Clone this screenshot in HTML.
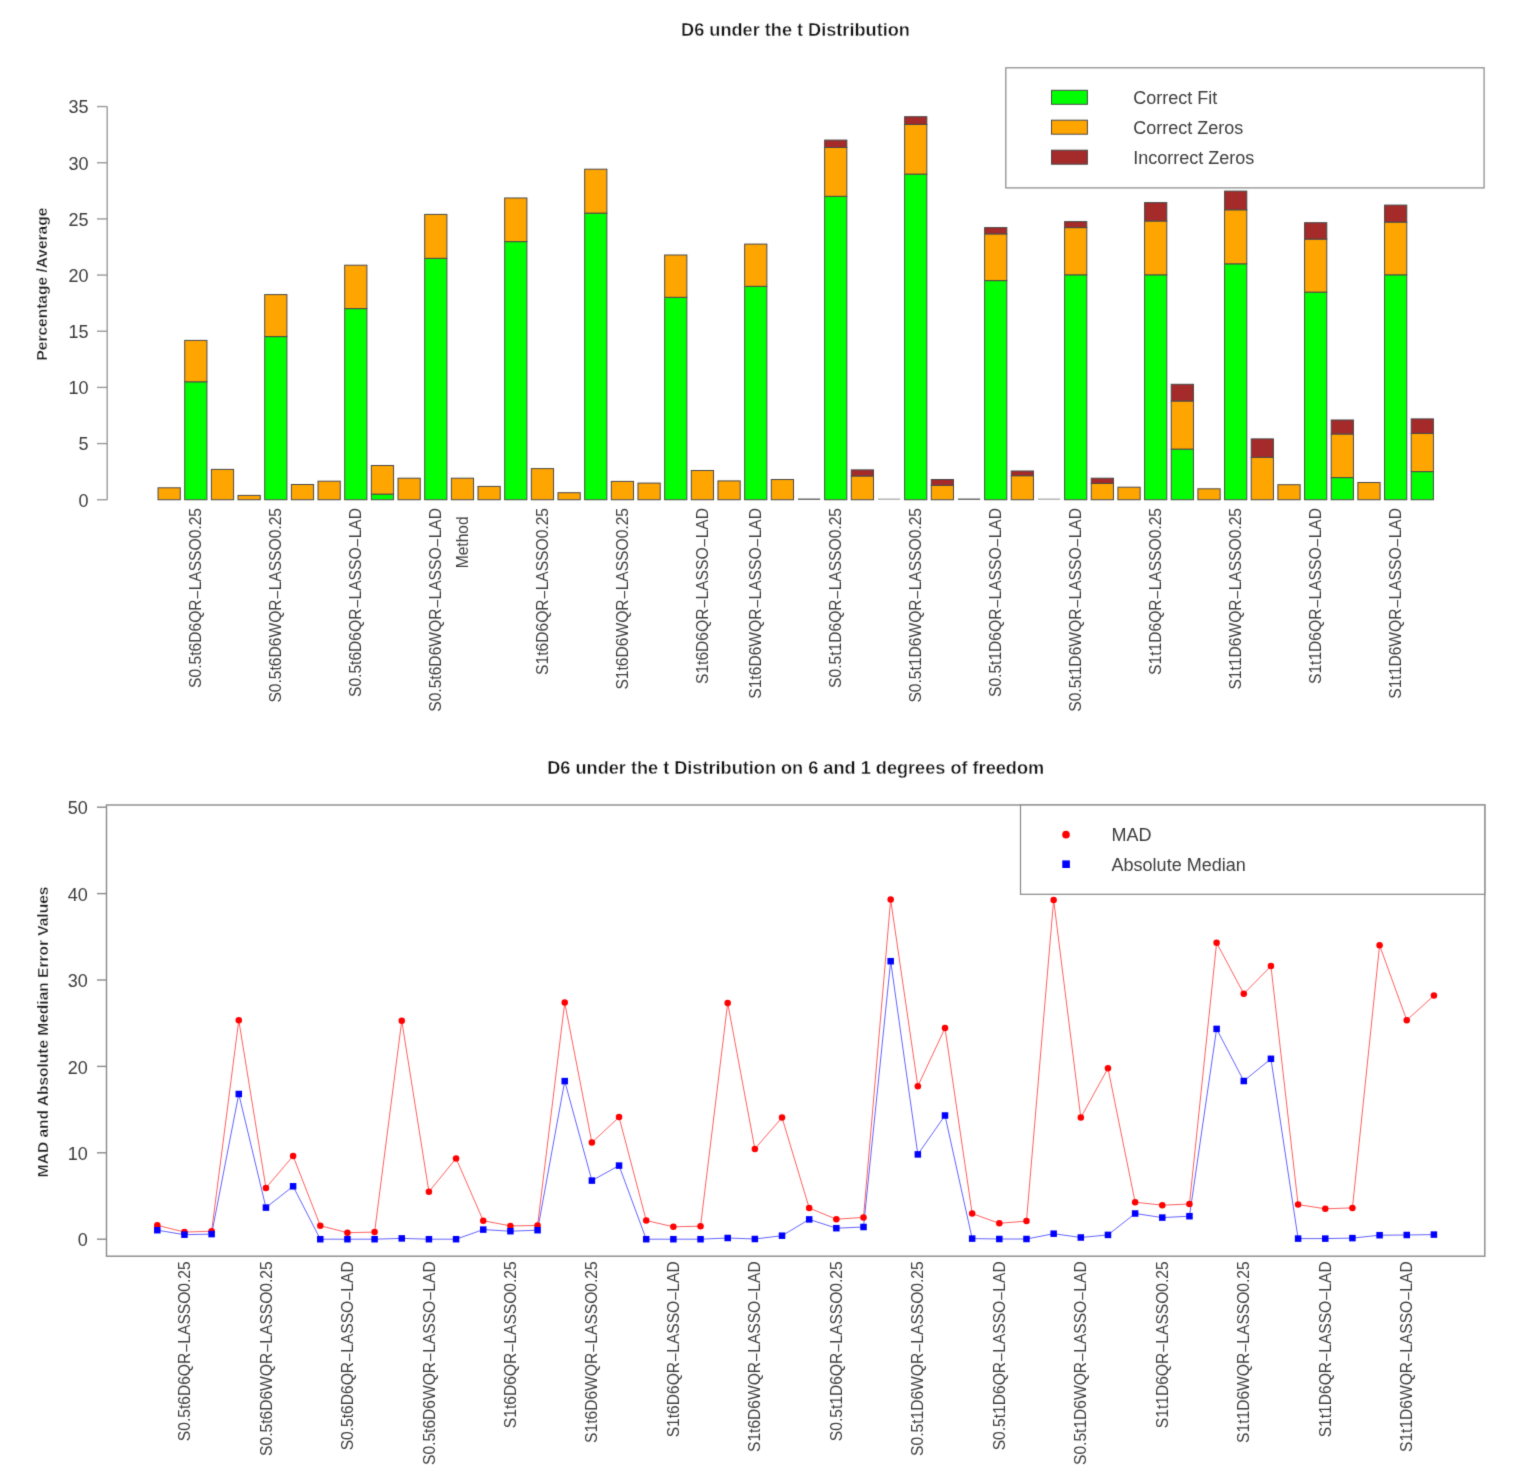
<!DOCTYPE html>
<html><head><meta charset="utf-8"><title>D6 under the t Distribution</title>
<style>
html,body{margin:0;padding:0;background:#fff;}
body{width:1525px;height:1476px;overflow:hidden;}
svg{display:block;}
text{font-family:'Liberation Sans', Arial, Helvetica, sans-serif;}
.t{font-weight:bold;font-size:18.15px;fill:#111;stroke:#fff;stroke-width:0.35px;}
.tick{font-size:18px;fill:#3c3c3c;}
.leg{font-size:18px;fill:#3c3c3c;}
.xl{font-size:15.6px;fill:#3c3c3c;}
.yl{font-size:15.5px;font-weight:bold;fill:#1a1a1a;stroke:#fff;stroke-width:0.3px;}
</style></head><body>
<svg width="1525" height="1476" viewBox="0 0 1525 1476">
<defs><filter id="soft" x="0" y="0" width="1525" height="1476" filterUnits="userSpaceOnUse" color-interpolation-filters="sRGB"><feConvolveMatrix order="3" kernelMatrix="0.01440 0.09120 0.01440 0.09120 0.57760 0.09120 0.01440 0.09120 0.01440" edgeMode="duplicate" preserveAlpha="true"/></filter></defs>
<g filter="url(#soft)">
<rect x="0" y="0" width="1525" height="1476" fill="#fff"/>

<text class="t" x="795.5" y="35.7" text-anchor="middle">D6 under the t Distribution</text>
<g stroke="#9a9a9a" stroke-width="1.4" fill="none">
<line x1="107.2" y1="106.56" x2="107.2" y2="499.75"/>
<line x1="97" y1="499.75" x2="107.2" y2="499.75"/>
<line x1="97" y1="443.58" x2="107.2" y2="443.58"/>
<line x1="97" y1="387.41" x2="107.2" y2="387.41"/>
<line x1="97" y1="331.24" x2="107.2" y2="331.24"/>
<line x1="97" y1="275.07" x2="107.2" y2="275.07"/>
<line x1="97" y1="218.90" x2="107.2" y2="218.90"/>
<line x1="97" y1="162.73" x2="107.2" y2="162.73"/>
<line x1="97" y1="106.56" x2="107.2" y2="106.56"/>
</g>
<text class="tick" x="88.6" y="506.55" text-anchor="end">0</text>
<text class="tick" x="88.6" y="450.38" text-anchor="end">5</text>
<text class="tick" x="88.6" y="394.21" text-anchor="end">10</text>
<text class="tick" x="88.6" y="338.04" text-anchor="end">15</text>
<text class="tick" x="88.6" y="281.87" text-anchor="end">20</text>
<text class="tick" x="88.6" y="225.70" text-anchor="end">25</text>
<text class="tick" x="88.6" y="169.53" text-anchor="end">30</text>
<text class="tick" x="88.6" y="113.36" text-anchor="end">35</text>
<text class="yl" transform="translate(47.4,284.1) rotate(-90)" text-anchor="middle">Percentage /Average</text>
<g stroke="#4a4a4a" stroke-width="1">
<rect x="158.05" y="487.80" width="22.22" height="11.95" fill="#ffa500"/>
<rect x="184.71" y="381.80" width="22.22" height="117.95" fill="#00ff00"/>
<rect x="184.71" y="340.40" width="22.22" height="41.40" fill="#ffa500"/>
<rect x="211.38" y="469.40" width="22.22" height="30.35" fill="#ffa500"/>
<rect x="238.04" y="495.40" width="22.22" height="4.35" fill="#ffa500"/>
<rect x="264.70" y="336.60" width="22.22" height="163.15" fill="#00ff00"/>
<rect x="264.70" y="294.60" width="22.22" height="42.00" fill="#ffa500"/>
<rect x="291.37" y="484.50" width="22.22" height="15.25" fill="#ffa500"/>
<rect x="318.03" y="481.20" width="22.22" height="18.55" fill="#ffa500"/>
<rect x="344.69" y="308.60" width="22.22" height="191.15" fill="#00ff00"/>
<rect x="344.69" y="265.20" width="22.22" height="43.40" fill="#ffa500"/>
<rect x="371.35" y="494.10" width="22.22" height="5.65" fill="#00ff00"/>
<rect x="371.35" y="465.50" width="22.22" height="28.60" fill="#ffa500"/>
<rect x="398.02" y="478.20" width="22.22" height="21.55" fill="#ffa500"/>
<rect x="424.68" y="258.30" width="22.22" height="241.45" fill="#00ff00"/>
<rect x="424.68" y="214.40" width="22.22" height="43.90" fill="#ffa500"/>
<rect x="451.34" y="478.20" width="22.22" height="21.55" fill="#ffa500"/>
<rect x="478.01" y="486.40" width="22.22" height="13.35" fill="#ffa500"/>
<rect x="504.67" y="241.60" width="22.22" height="258.15" fill="#00ff00"/>
<rect x="504.67" y="198.00" width="22.22" height="43.60" fill="#ffa500"/>
<rect x="531.33" y="468.60" width="22.22" height="31.15" fill="#ffa500"/>
<rect x="558.00" y="492.70" width="22.22" height="7.05" fill="#ffa500"/>
<rect x="584.66" y="213.10" width="22.22" height="286.65" fill="#00ff00"/>
<rect x="584.66" y="169.20" width="22.22" height="43.90" fill="#ffa500"/>
<rect x="611.32" y="481.40" width="22.22" height="18.35" fill="#ffa500"/>
<rect x="637.98" y="483.10" width="22.22" height="16.65" fill="#ffa500"/>
<rect x="664.65" y="297.30" width="22.22" height="202.45" fill="#00ff00"/>
<rect x="664.65" y="255.00" width="22.22" height="42.30" fill="#ffa500"/>
<rect x="691.31" y="470.50" width="22.22" height="29.25" fill="#ffa500"/>
<rect x="717.97" y="480.90" width="22.22" height="18.85" fill="#ffa500"/>
<rect x="744.64" y="286.30" width="22.22" height="213.45" fill="#00ff00"/>
<rect x="744.64" y="244.10" width="22.22" height="42.20" fill="#ffa500"/>
<rect x="771.30" y="479.50" width="22.22" height="20.25" fill="#ffa500"/>
<line x1="797.96" y1="499.2" x2="820.18" y2="499.2" stroke="#555" stroke-width="1.3"/>
<rect x="824.62" y="196.30" width="22.22" height="303.45" fill="#00ff00"/>
<rect x="824.62" y="147.50" width="22.22" height="48.80" fill="#ffa500"/>
<rect x="824.62" y="140.10" width="22.22" height="7.40" fill="#a52a2a"/>
<rect x="851.29" y="476.00" width="22.22" height="23.75" fill="#ffa500"/>
<rect x="851.29" y="469.90" width="22.22" height="6.10" fill="#a52a2a"/>
<line x1="877.95" y1="499.2" x2="900.17" y2="499.2" stroke="#aaa" stroke-width="1.3"/>
<rect x="904.61" y="174.10" width="22.22" height="325.65" fill="#00ff00"/>
<rect x="904.61" y="124.40" width="22.22" height="49.70" fill="#ffa500"/>
<rect x="904.61" y="116.70" width="22.22" height="7.70" fill="#a52a2a"/>
<rect x="931.28" y="485.30" width="22.22" height="14.45" fill="#ffa500"/>
<rect x="931.28" y="479.50" width="22.22" height="5.80" fill="#a52a2a"/>
<line x1="957.94" y1="499.2" x2="980.16" y2="499.2" stroke="#555" stroke-width="1.3"/>
<rect x="984.60" y="280.60" width="22.22" height="219.15" fill="#00ff00"/>
<rect x="984.60" y="233.90" width="22.22" height="46.70" fill="#ffa500"/>
<rect x="984.60" y="227.60" width="22.22" height="6.30" fill="#a52a2a"/>
<rect x="1011.27" y="475.70" width="22.22" height="24.05" fill="#ffa500"/>
<rect x="1011.27" y="471.00" width="22.22" height="4.70" fill="#a52a2a"/>
<line x1="1037.93" y1="499.2" x2="1060.15" y2="499.2" stroke="#aaa" stroke-width="1.3"/>
<rect x="1064.59" y="274.80" width="22.22" height="224.95" fill="#00ff00"/>
<rect x="1064.59" y="227.60" width="22.22" height="47.20" fill="#ffa500"/>
<rect x="1064.59" y="221.60" width="22.22" height="6.00" fill="#a52a2a"/>
<rect x="1091.26" y="483.40" width="22.22" height="16.35" fill="#ffa500"/>
<rect x="1091.26" y="478.20" width="22.22" height="5.20" fill="#a52a2a"/>
<rect x="1117.92" y="487.20" width="22.22" height="12.55" fill="#ffa500"/>
<rect x="1144.58" y="274.80" width="22.22" height="224.95" fill="#00ff00"/>
<rect x="1144.58" y="221.00" width="22.22" height="53.80" fill="#ffa500"/>
<rect x="1144.58" y="202.60" width="22.22" height="18.40" fill="#a52a2a"/>
<rect x="1171.24" y="449.10" width="22.22" height="50.65" fill="#00ff00"/>
<rect x="1171.24" y="401.00" width="22.22" height="48.10" fill="#ffa500"/>
<rect x="1171.24" y="384.30" width="22.22" height="16.70" fill="#a52a2a"/>
<rect x="1197.91" y="488.80" width="22.22" height="10.95" fill="#ffa500"/>
<rect x="1224.57" y="263.80" width="22.22" height="235.95" fill="#00ff00"/>
<rect x="1224.57" y="209.80" width="22.22" height="54.00" fill="#ffa500"/>
<rect x="1224.57" y="191.10" width="22.22" height="18.70" fill="#a52a2a"/>
<rect x="1251.23" y="457.30" width="22.22" height="42.45" fill="#ffa500"/>
<rect x="1251.23" y="438.90" width="22.22" height="18.40" fill="#a52a2a"/>
<rect x="1277.90" y="484.70" width="22.22" height="15.05" fill="#ffa500"/>
<rect x="1304.56" y="292.10" width="22.22" height="207.65" fill="#00ff00"/>
<rect x="1304.56" y="239.10" width="22.22" height="53.00" fill="#ffa500"/>
<rect x="1304.56" y="222.70" width="22.22" height="16.40" fill="#a52a2a"/>
<rect x="1331.22" y="477.60" width="22.22" height="22.15" fill="#00ff00"/>
<rect x="1331.22" y="434.00" width="22.22" height="43.60" fill="#ffa500"/>
<rect x="1331.22" y="420.00" width="22.22" height="14.00" fill="#a52a2a"/>
<rect x="1357.88" y="482.50" width="22.22" height="17.25" fill="#ffa500"/>
<rect x="1384.55" y="274.80" width="22.22" height="224.95" fill="#00ff00"/>
<rect x="1384.55" y="222.10" width="22.22" height="52.70" fill="#ffa500"/>
<rect x="1384.55" y="205.10" width="22.22" height="17.00" fill="#a52a2a"/>
<rect x="1411.21" y="471.60" width="22.22" height="28.15" fill="#00ff00"/>
<rect x="1411.21" y="433.40" width="22.22" height="38.20" fill="#ffa500"/>
<rect x="1411.21" y="418.90" width="22.22" height="14.50" fill="#a52a2a"/>
</g>
<text class="xl" transform="translate(201.42,508.0) rotate(-90)" text-anchor="end">S0.5t6D6QR<tspan dy="1.6">−</tspan><tspan dy="-1.6">LASSO0.25</tspan></text>
<text class="xl" transform="translate(281.41,508.0) rotate(-90)" text-anchor="end">S0.5t6D6WQR<tspan dy="1.6">−</tspan><tspan dy="-1.6">LASSO0.25</tspan></text>
<text class="xl" transform="translate(361.40,508.0) rotate(-90)" text-anchor="end">S0.5t6D6QR<tspan dy="1.6">−</tspan><tspan dy="-1.6">LASSO</tspan><tspan dy="1.6">−</tspan><tspan dy="-1.6">LAD</tspan></text>
<text class="xl" transform="translate(441.39,508.0) rotate(-90)" text-anchor="end">S0.5t6D6WQR<tspan dy="1.6">−</tspan><tspan dy="-1.6">LASSO</tspan><tspan dy="1.6">−</tspan><tspan dy="-1.6">LAD</tspan></text>
<text class="xl" transform="translate(548.04,508.0) rotate(-90)" text-anchor="end">S1t6D6QR<tspan dy="1.6">−</tspan><tspan dy="-1.6">LASSO0.25</tspan></text>
<text class="xl" transform="translate(628.03,508.0) rotate(-90)" text-anchor="end">S1t6D6WQR<tspan dy="1.6">−</tspan><tspan dy="-1.6">LASSO0.25</tspan></text>
<text class="xl" transform="translate(708.02,508.0) rotate(-90)" text-anchor="end">S1t6D6QR<tspan dy="1.6">−</tspan><tspan dy="-1.6">LASSO</tspan><tspan dy="1.6">−</tspan><tspan dy="-1.6">LAD</tspan></text>
<text class="xl" transform="translate(761.35,508.0) rotate(-90)" text-anchor="end">S1t6D6WQR<tspan dy="1.6">−</tspan><tspan dy="-1.6">LASSO</tspan><tspan dy="1.6">−</tspan><tspan dy="-1.6">LAD</tspan></text>
<text class="xl" transform="translate(841.34,508.0) rotate(-90)" text-anchor="end">S0.5t1D6QR<tspan dy="1.6">−</tspan><tspan dy="-1.6">LASSO0.25</tspan></text>
<text class="xl" transform="translate(921.32,508.0) rotate(-90)" text-anchor="end">S0.5t1D6WQR<tspan dy="1.6">−</tspan><tspan dy="-1.6">LASSO0.25</tspan></text>
<text class="xl" transform="translate(1001.31,508.0) rotate(-90)" text-anchor="end">S0.5t1D6QR<tspan dy="1.6">−</tspan><tspan dy="-1.6">LASSO</tspan><tspan dy="1.6">−</tspan><tspan dy="-1.6">LAD</tspan></text>
<text class="xl" transform="translate(1081.30,508.0) rotate(-90)" text-anchor="end">S0.5t1D6WQR<tspan dy="1.6">−</tspan><tspan dy="-1.6">LASSO</tspan><tspan dy="1.6">−</tspan><tspan dy="-1.6">LAD</tspan></text>
<text class="xl" transform="translate(1161.29,508.0) rotate(-90)" text-anchor="end">S1t1D6QR<tspan dy="1.6">−</tspan><tspan dy="-1.6">LASSO0.25</tspan></text>
<text class="xl" transform="translate(1241.28,508.0) rotate(-90)" text-anchor="end">S1t1D6WQR<tspan dy="1.6">−</tspan><tspan dy="-1.6">LASSO0.25</tspan></text>
<text class="xl" transform="translate(1321.27,508.0) rotate(-90)" text-anchor="end">S1t1D6QR<tspan dy="1.6">−</tspan><tspan dy="-1.6">LASSO</tspan><tspan dy="1.6">−</tspan><tspan dy="-1.6">LAD</tspan></text>
<text class="xl" transform="translate(1401.26,508.0) rotate(-90)" text-anchor="end">S1t1D6WQR<tspan dy="1.6">−</tspan><tspan dy="-1.6">LASSO</tspan><tspan dy="1.6">−</tspan><tspan dy="-1.6">LAD</tspan></text>
<text class="xl" transform="translate(468.05,516.3) rotate(-90)" text-anchor="end">Method</text>
<rect x="1005.8" y="67.8" width="478.3" height="120.1" fill="none" stroke="#888" stroke-width="1.2"/>
<rect x="1051.5" y="90.3" width="35.9" height="14.0" fill="#00ff00" stroke="#4a4a4a" stroke-width="1"/>
<text class="leg" x="1133.2" y="104.2">Correct Fit</text>
<rect x="1051.5" y="120.2" width="35.9" height="14.0" fill="#ffa500" stroke="#4a4a4a" stroke-width="1"/>
<text class="leg" x="1133.2" y="134.2">Correct Zeros</text>
<rect x="1051.5" y="150.2" width="35.9" height="14.0" fill="#a52a2a" stroke="#4a4a4a" stroke-width="1"/>
<text class="leg" x="1133.2" y="164.2">Incorrect Zeros</text>
<text class="t" x="795.7" y="773.7" text-anchor="middle">D6 under the t Distribution on 6 and 1 degrees of freedom</text>
<rect x="106.5" y="805" width="1378.3" height="451.2" fill="none" stroke="#8a8a8a" stroke-width="1.4"/>
<g stroke="#8a8a8a" stroke-width="1.4">
<line x1="97" y1="1239.20" x2="106.5" y2="1239.20"/>
<line x1="97" y1="1152.80" x2="106.5" y2="1152.80"/>
<line x1="97" y1="1066.40" x2="106.5" y2="1066.40"/>
<line x1="97" y1="980.00" x2="106.5" y2="980.00"/>
<line x1="97" y1="893.60" x2="106.5" y2="893.60"/>
<line x1="97" y1="807.20" x2="106.5" y2="807.20"/>
</g>
<text class="tick" x="87.8" y="1246.40" text-anchor="end">0</text>
<text class="tick" x="87.8" y="1160.00" text-anchor="end">10</text>
<text class="tick" x="87.8" y="1073.60" text-anchor="end">20</text>
<text class="tick" x="87.8" y="987.20" text-anchor="end">30</text>
<text class="tick" x="87.8" y="900.80" text-anchor="end">40</text>
<text class="tick" x="87.8" y="814.40" text-anchor="end">50</text>
<text class="yl" transform="translate(47.8,1031.9) rotate(-90)" text-anchor="middle">MAD and Absolute Median Error Values</text>
<polyline points="157.30,1225.30 184.46,1232.10 211.62,1231.20 238.79,1020.30 265.95,1187.90 293.11,1156.00 320.27,1225.70 347.43,1232.70 374.60,1232.10 401.76,1020.70 428.92,1191.80 456.08,1158.40 483.24,1220.70 510.41,1225.90 537.57,1225.50 564.73,1002.60 591.89,1142.60 619.05,1117.10 646.22,1220.50 673.38,1226.80 700.54,1226.20 727.70,1003.00 754.86,1148.90 782.03,1117.50 809.19,1208.10 836.35,1219.20 863.51,1217.40 890.67,899.60 917.84,1086.20 945.00,1028.10 972.16,1213.60 999.32,1223.30 1026.48,1221.10 1053.65,899.90 1080.81,1117.60 1107.97,1068.30 1135.13,1202.20 1162.29,1205.20 1189.46,1204.00 1216.62,942.80 1243.78,993.80 1270.94,966.10 1298.10,1204.60 1325.27,1208.80 1352.43,1207.90 1379.59,945.30 1406.75,1020.20 1433.91,995.60" fill="none" stroke="#ff6060" stroke-width="1.0"/>
<polyline points="157.30,1230.20 184.46,1234.70 211.62,1234.10 238.79,1094.00 265.95,1207.60 293.11,1186.30 320.27,1239.20 347.43,1239.20 374.60,1239.20 401.76,1238.40 428.92,1239.20 456.08,1239.20 483.24,1229.60 510.41,1231.20 537.57,1230.20 564.73,1081.10 591.89,1180.60 619.05,1165.60 646.22,1239.20 673.38,1239.20 700.54,1239.20 727.70,1238.00 754.86,1239.00 782.03,1235.70 809.19,1219.40 836.35,1228.20 863.51,1227.00 890.67,961.20 917.84,1154.40 945.00,1115.50 972.16,1238.60 999.32,1239.00 1026.48,1239.00 1053.65,1233.70 1080.81,1237.50 1107.97,1234.90 1135.13,1213.50 1162.29,1217.60 1189.46,1216.20 1216.62,1028.90 1243.78,1081.00 1270.94,1058.80 1298.10,1238.60 1325.27,1238.60 1352.43,1238.10 1379.59,1235.20 1406.75,1235.00 1433.91,1234.60" fill="none" stroke="#6464ff" stroke-width="1.0"/>
<g fill="#ff0000">
<circle cx="157.30" cy="1225.30" r="3.25"/>
<circle cx="184.46" cy="1232.10" r="3.25"/>
<circle cx="211.62" cy="1231.20" r="3.25"/>
<circle cx="238.79" cy="1020.30" r="3.25"/>
<circle cx="265.95" cy="1187.90" r="3.25"/>
<circle cx="293.11" cy="1156.00" r="3.25"/>
<circle cx="320.27" cy="1225.70" r="3.25"/>
<circle cx="347.43" cy="1232.70" r="3.25"/>
<circle cx="374.60" cy="1232.10" r="3.25"/>
<circle cx="401.76" cy="1020.70" r="3.25"/>
<circle cx="428.92" cy="1191.80" r="3.25"/>
<circle cx="456.08" cy="1158.40" r="3.25"/>
<circle cx="483.24" cy="1220.70" r="3.25"/>
<circle cx="510.41" cy="1225.90" r="3.25"/>
<circle cx="537.57" cy="1225.50" r="3.25"/>
<circle cx="564.73" cy="1002.60" r="3.25"/>
<circle cx="591.89" cy="1142.60" r="3.25"/>
<circle cx="619.05" cy="1117.10" r="3.25"/>
<circle cx="646.22" cy="1220.50" r="3.25"/>
<circle cx="673.38" cy="1226.80" r="3.25"/>
<circle cx="700.54" cy="1226.20" r="3.25"/>
<circle cx="727.70" cy="1003.00" r="3.25"/>
<circle cx="754.86" cy="1148.90" r="3.25"/>
<circle cx="782.03" cy="1117.50" r="3.25"/>
<circle cx="809.19" cy="1208.10" r="3.25"/>
<circle cx="836.35" cy="1219.20" r="3.25"/>
<circle cx="863.51" cy="1217.40" r="3.25"/>
<circle cx="890.67" cy="899.60" r="3.25"/>
<circle cx="917.84" cy="1086.20" r="3.25"/>
<circle cx="945.00" cy="1028.10" r="3.25"/>
<circle cx="972.16" cy="1213.60" r="3.25"/>
<circle cx="999.32" cy="1223.30" r="3.25"/>
<circle cx="1026.48" cy="1221.10" r="3.25"/>
<circle cx="1053.65" cy="899.90" r="3.25"/>
<circle cx="1080.81" cy="1117.60" r="3.25"/>
<circle cx="1107.97" cy="1068.30" r="3.25"/>
<circle cx="1135.13" cy="1202.20" r="3.25"/>
<circle cx="1162.29" cy="1205.20" r="3.25"/>
<circle cx="1189.46" cy="1204.00" r="3.25"/>
<circle cx="1216.62" cy="942.80" r="3.25"/>
<circle cx="1243.78" cy="993.80" r="3.25"/>
<circle cx="1270.94" cy="966.10" r="3.25"/>
<circle cx="1298.10" cy="1204.60" r="3.25"/>
<circle cx="1325.27" cy="1208.80" r="3.25"/>
<circle cx="1352.43" cy="1207.90" r="3.25"/>
<circle cx="1379.59" cy="945.30" r="3.25"/>
<circle cx="1406.75" cy="1020.20" r="3.25"/>
<circle cx="1433.91" cy="995.60" r="3.25"/>
</g><g fill="#0000ff">
<rect x="154.05" y="1226.95" width="6.5" height="6.5"/>
<rect x="181.21" y="1231.45" width="6.5" height="6.5"/>
<rect x="208.37" y="1230.85" width="6.5" height="6.5"/>
<rect x="235.54" y="1090.75" width="6.5" height="6.5"/>
<rect x="262.70" y="1204.35" width="6.5" height="6.5"/>
<rect x="289.86" y="1183.05" width="6.5" height="6.5"/>
<rect x="317.02" y="1235.95" width="6.5" height="6.5"/>
<rect x="344.18" y="1235.95" width="6.5" height="6.5"/>
<rect x="371.35" y="1235.95" width="6.5" height="6.5"/>
<rect x="398.51" y="1235.15" width="6.5" height="6.5"/>
<rect x="425.67" y="1235.95" width="6.5" height="6.5"/>
<rect x="452.83" y="1235.95" width="6.5" height="6.5"/>
<rect x="479.99" y="1226.35" width="6.5" height="6.5"/>
<rect x="507.16" y="1227.95" width="6.5" height="6.5"/>
<rect x="534.32" y="1226.95" width="6.5" height="6.5"/>
<rect x="561.48" y="1077.85" width="6.5" height="6.5"/>
<rect x="588.64" y="1177.35" width="6.5" height="6.5"/>
<rect x="615.80" y="1162.35" width="6.5" height="6.5"/>
<rect x="642.97" y="1235.95" width="6.5" height="6.5"/>
<rect x="670.13" y="1235.95" width="6.5" height="6.5"/>
<rect x="697.29" y="1235.95" width="6.5" height="6.5"/>
<rect x="724.45" y="1234.75" width="6.5" height="6.5"/>
<rect x="751.61" y="1235.75" width="6.5" height="6.5"/>
<rect x="778.78" y="1232.45" width="6.5" height="6.5"/>
<rect x="805.94" y="1216.15" width="6.5" height="6.5"/>
<rect x="833.10" y="1224.95" width="6.5" height="6.5"/>
<rect x="860.26" y="1223.75" width="6.5" height="6.5"/>
<rect x="887.42" y="957.95" width="6.5" height="6.5"/>
<rect x="914.59" y="1151.15" width="6.5" height="6.5"/>
<rect x="941.75" y="1112.25" width="6.5" height="6.5"/>
<rect x="968.91" y="1235.35" width="6.5" height="6.5"/>
<rect x="996.07" y="1235.75" width="6.5" height="6.5"/>
<rect x="1023.23" y="1235.75" width="6.5" height="6.5"/>
<rect x="1050.40" y="1230.45" width="6.5" height="6.5"/>
<rect x="1077.56" y="1234.25" width="6.5" height="6.5"/>
<rect x="1104.72" y="1231.65" width="6.5" height="6.5"/>
<rect x="1131.88" y="1210.25" width="6.5" height="6.5"/>
<rect x="1159.04" y="1214.35" width="6.5" height="6.5"/>
<rect x="1186.21" y="1212.95" width="6.5" height="6.5"/>
<rect x="1213.37" y="1025.65" width="6.5" height="6.5"/>
<rect x="1240.53" y="1077.75" width="6.5" height="6.5"/>
<rect x="1267.69" y="1055.55" width="6.5" height="6.5"/>
<rect x="1294.85" y="1235.35" width="6.5" height="6.5"/>
<rect x="1322.02" y="1235.35" width="6.5" height="6.5"/>
<rect x="1349.18" y="1234.85" width="6.5" height="6.5"/>
<rect x="1376.34" y="1231.95" width="6.5" height="6.5"/>
<rect x="1403.50" y="1231.75" width="6.5" height="6.5"/>
<rect x="1430.66" y="1231.35" width="6.5" height="6.5"/>
</g>
<text class="xl" transform="translate(190.06,1261.3) rotate(-90)" text-anchor="end">S0.5t6D6QR<tspan dy="1.6">−</tspan><tspan dy="-1.6">LASSO0.25</tspan></text>
<text class="xl" transform="translate(271.55,1261.3) rotate(-90)" text-anchor="end">S0.5t6D6WQR<tspan dy="1.6">−</tspan><tspan dy="-1.6">LASSO0.25</tspan></text>
<text class="xl" transform="translate(353.03,1261.3) rotate(-90)" text-anchor="end">S0.5t6D6QR<tspan dy="1.6">−</tspan><tspan dy="-1.6">LASSO</tspan><tspan dy="1.6">−</tspan><tspan dy="-1.6">LAD</tspan></text>
<text class="xl" transform="translate(434.52,1261.3) rotate(-90)" text-anchor="end">S0.5t6D6WQR<tspan dy="1.6">−</tspan><tspan dy="-1.6">LASSO</tspan><tspan dy="1.6">−</tspan><tspan dy="-1.6">LAD</tspan></text>
<text class="xl" transform="translate(516.01,1261.3) rotate(-90)" text-anchor="end">S1t6D6QR<tspan dy="1.6">−</tspan><tspan dy="-1.6">LASSO0.25</tspan></text>
<text class="xl" transform="translate(597.49,1261.3) rotate(-90)" text-anchor="end">S1t6D6WQR<tspan dy="1.6">−</tspan><tspan dy="-1.6">LASSO0.25</tspan></text>
<text class="xl" transform="translate(678.98,1261.3) rotate(-90)" text-anchor="end">S1t6D6QR<tspan dy="1.6">−</tspan><tspan dy="-1.6">LASSO</tspan><tspan dy="1.6">−</tspan><tspan dy="-1.6">LAD</tspan></text>
<text class="xl" transform="translate(760.46,1261.3) rotate(-90)" text-anchor="end">S1t6D6WQR<tspan dy="1.6">−</tspan><tspan dy="-1.6">LASSO</tspan><tspan dy="1.6">−</tspan><tspan dy="-1.6">LAD</tspan></text>
<text class="xl" transform="translate(841.95,1261.3) rotate(-90)" text-anchor="end">S0.5t1D6QR<tspan dy="1.6">−</tspan><tspan dy="-1.6">LASSO0.25</tspan></text>
<text class="xl" transform="translate(923.44,1261.3) rotate(-90)" text-anchor="end">S0.5t1D6WQR<tspan dy="1.6">−</tspan><tspan dy="-1.6">LASSO0.25</tspan></text>
<text class="xl" transform="translate(1004.92,1261.3) rotate(-90)" text-anchor="end">S0.5t1D6QR<tspan dy="1.6">−</tspan><tspan dy="-1.6">LASSO</tspan><tspan dy="1.6">−</tspan><tspan dy="-1.6">LAD</tspan></text>
<text class="xl" transform="translate(1086.41,1261.3) rotate(-90)" text-anchor="end">S0.5t1D6WQR<tspan dy="1.6">−</tspan><tspan dy="-1.6">LASSO</tspan><tspan dy="1.6">−</tspan><tspan dy="-1.6">LAD</tspan></text>
<text class="xl" transform="translate(1167.89,1261.3) rotate(-90)" text-anchor="end">S1t1D6QR<tspan dy="1.6">−</tspan><tspan dy="-1.6">LASSO0.25</tspan></text>
<text class="xl" transform="translate(1249.38,1261.3) rotate(-90)" text-anchor="end">S1t1D6WQR<tspan dy="1.6">−</tspan><tspan dy="-1.6">LASSO0.25</tspan></text>
<text class="xl" transform="translate(1330.87,1261.3) rotate(-90)" text-anchor="end">S1t1D6QR<tspan dy="1.6">−</tspan><tspan dy="-1.6">LASSO</tspan><tspan dy="1.6">−</tspan><tspan dy="-1.6">LAD</tspan></text>
<text class="xl" transform="translate(1412.35,1261.3) rotate(-90)" text-anchor="end">S1t1D6WQR<tspan dy="1.6">−</tspan><tspan dy="-1.6">LASSO</tspan><tspan dy="1.6">−</tspan><tspan dy="-1.6">LAD</tspan></text>
<rect x="1020.5" y="805" width="464.3" height="89.3" fill="#fff" stroke="#888" stroke-width="1.2"/>
<circle cx="1066.0" cy="834.65" r="3.8" fill="#ff0000"/>
<rect x="1062.28" y="860.4" width="7.6" height="7.6" fill="#0000ff"/>
<text class="leg" x="1111.6" y="841.2">MAD</text>
<text class="leg" x="1111.6" y="871.1">Absolute Median</text>
</g></svg></body></html>
